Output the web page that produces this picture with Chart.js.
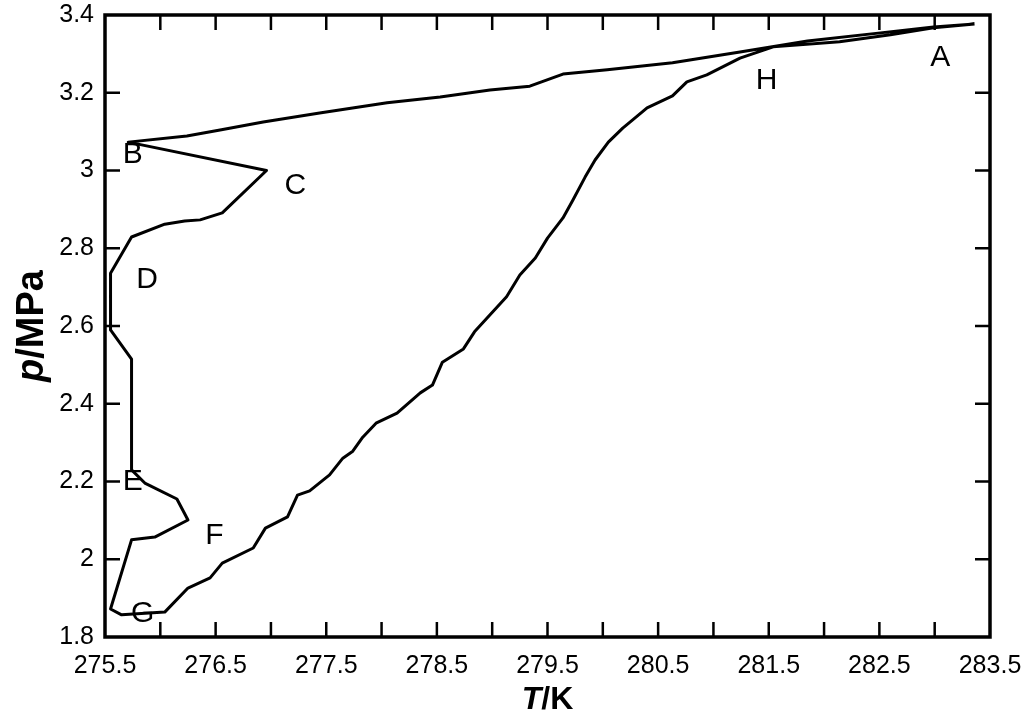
<!DOCTYPE html>
<html>
<head>
<meta charset="utf-8">
<script src="https://cdn.jsdelivr.net/npm/chart.js@4.4.0/dist/chart.umd.min.js"></script>
<style>
    html, body { margin: 0; padding: 0; background: #fff; }
    #wrap { width: 1024px; height: 720px; }
</style>
</head>
<body>
<div id="wrap"><canvas id="ptChart" width="1024" height="720"></canvas></div>
<script>
// path of the cycle, A -> B -> C ... G -> H -> A
const tempK = [
    283.36, 282.99, 282.51, 281.85, 281.24, 280.63, 280.04, 279.64, 279.34, 278.98,
    278.53, 278.05, 277.44, 276.93, 276.54, 276.24, 275.71,
    276.96, 276.56, 276.36, 276.22, 276.04, 275.74, 275.55, 275.55, 275.74, 275.74,
    275.86, 276.15, 276.25, 275.95, 275.74, 275.55, 275.65, 276.04,
    276.25, 276.45, 276.56, 276.84, 276.95, 277.15, 277.24, 277.35, 277.53, 277.65,
    277.74, 277.83, 277.95, 278.14, 278.35, 278.46, 278.55, 278.74, 278.84, 279.13,
    279.25, 279.39, 279.50, 279.64, 279.73, 279.84, 279.93, 280.05, 280.18, 280.27,
    280.40, 280.63, 280.76, 280.94, 281.24, 281.54, 282.14, 282.60, 282.99, 283.36
];
const pressMPa = [
    3.377, 3.369, 3.354, 3.333, 3.305, 3.277, 3.259, 3.248, 3.217, 3.207,
    3.189, 3.174, 3.148, 3.125, 3.104, 3.089, 3.073,
    3.000, 2.891, 2.873, 2.870, 2.862, 2.829, 2.736, 2.590, 2.515, 2.230,
    2.196, 2.155, 2.101, 2.057, 2.050, 1.872, 1.857, 1.864,
    1.926, 1.952, 1.990, 2.029, 2.080, 2.109, 2.165, 2.176, 2.217, 2.260,
    2.278, 2.314, 2.350, 2.376, 2.428, 2.448, 2.507, 2.541, 2.585, 2.675,
    2.731, 2.775, 2.826, 2.878, 2.924, 2.983, 3.027, 3.073, 3.109, 3.130,
    3.161, 3.192, 3.228, 3.246, 3.289, 3.318, 3.331, 3.349, 3.367, 3.377
];

const xTickLabels = [275.5, 276.5, 277.5, 278.5, 279.5, 280.5, 281.5, 282.5, 283.5];
const xTickMarks = [276, 276.5, 277, 277.5, 278, 278.5, 279, 279.5, 280, 280.5, 281, 281.5, 282, 282.5, 283];
const yTickLabels = [1.8, 2, 2.2, 2.4, 2.6, 2.8, 3, 3.2, 3.4];
const yTickMarks = [2, 2.2, 2.4, 2.6, 2.8, 3, 3.2];

// state letters
const stateNames = ['A', 'B', 'C', 'D', 'E', 'F', 'G', 'H'];
const stateT = [283.05, 275.75, 277.22, 275.88, 275.75, 276.49, 275.84, 281.48];
const stateP = [3.29, 3.04, 2.96, 2.72, 2.20, 2.06, 1.86, 3.23];

const FONT = "'Liberation Sans', Arial, Helvetica, sans-serif";

// frame, inward ticks, axis titles and letters
const framePlugin = {
    id: 'frame',
    afterDatasetsDraw(chart) {
        const { ctx, chartArea: a, scales: { x, y } } = chart;
        const len = 15;
        ctx.save();
        ctx.strokeStyle = '#000';
        ctx.lineWidth = 2.5;
        ctx.beginPath();
        xTickMarks.forEach(v => {
            const px = x.getPixelForValue(v);
            ctx.moveTo(px, a.bottom); ctx.lineTo(px, a.bottom - len);
            ctx.moveTo(px, a.top); ctx.lineTo(px, a.top + len);
        });
        yTickMarks.forEach(v => {
            const py = y.getPixelForValue(v);
            ctx.moveTo(a.left, py); ctx.lineTo(a.left + len, py);
            ctx.moveTo(a.right, py); ctx.lineTo(a.right - len, py);
        });
        ctx.stroke();
        ctx.lineWidth = 3.5;
        ctx.strokeRect(a.left, a.top, a.right - a.left, a.bottom - a.top);

        ctx.fillStyle = '#000';
        ctx.textAlign = 'center';
        ctx.textBaseline = 'middle';
        ctx.font = '30px ' + FONT;
        stateNames.forEach((s, i) => {
            ctx.fillText(s, x.getPixelForValue(stateT[i]), y.getPixelForValue(stateP[i]));
        });

        // axis titles with italic symbol
        function mixedTitle(sym, rest, cx, cy, rot, size) {
            ctx.save();
            ctx.translate(cx, cy);
            ctx.rotate(rot);
            ctx.textAlign = 'left';
            ctx.textBaseline = 'middle';
            const f1 = 'italic bold ' + size + 'px ' + FONT;
            const f2 = 'bold ' + size + 'px ' + FONT;
            ctx.font = f1;
            const w1 = ctx.measureText(sym).width;
            ctx.font = f2;
            const w2 = ctx.measureText(rest).width;
            const x0 = -(w1 + w2) / 2;
            ctx.font = f1;
            ctx.fillText(sym, x0, 0);
            ctx.font = f2;
            ctx.fillText(rest, x0 + w1, 0);
            ctx.restore();
        }
        mixedTitle('T', '/K', (a.left + a.right) / 2, 700, 0, 32);
        mixedTitle('p', '/MPa', 33, (a.top + a.bottom) / 2, -Math.PI / 2, 38);
        ctx.restore();
    }
};

const ctx = document.getElementById('ptChart').getContext('2d');
const ptChart = new Chart(ctx, {
    type: 'scatter',
    data: {
        datasets: [{
            data: tempK.map((t, i) => ({ x: t, y: pressMPa[i] })),
            showLine: true,
            borderColor: '#000',
            borderWidth: 3,
            borderJoinStyle: 'round',
            pointRadius: 0,
            fill: false,
            tension: 0
        }]
    },
    options: {
        responsive: false,
        animation: false,
        layout: { padding: { left: 0, top: 15, right: 34, bottom: 0 } },
        plugins: { legend: { display: false }, tooltip: { enabled: false } },
        scales: {
            x: {
                type: 'linear',
                min: 275.5,
                max: 283.5,
                grid: { display: false, drawTicks: false },
                border: { display: false },
                afterBuildTicks: s => { s.ticks = xTickLabels.map(v => ({ value: v })); },
                afterFit: s => { s.height = 83; s.paddingLeft = 0; s.paddingRight = 0; },
                ticks: {
                    color: '#000',
                    padding: 14,
                    maxRotation: 0,
                    autoSkip: false,
                    font: { family: FONT, size: 25 },
                    callback: v => String(v)
                }
            },
            y: {
                type: 'linear',
                min: 1.8,
                max: 3.4,
                grid: { display: false, drawTicks: false },
                border: { display: false },
                afterBuildTicks: s => { s.ticks = yTickLabels.map(v => ({ value: v })); },
                afterFit: s => { s.width = 105; s.paddingTop = 0; s.paddingBottom = 0; },
                ticks: {
                    color: '#000',
                    padding: 11,
                    autoSkip: false,
                    font: { family: FONT, size: 25 },
                    callback: v => String(v)
                }
            }
        }
    },
    plugins: [framePlugin]
});
</script>
</body>
</html>
